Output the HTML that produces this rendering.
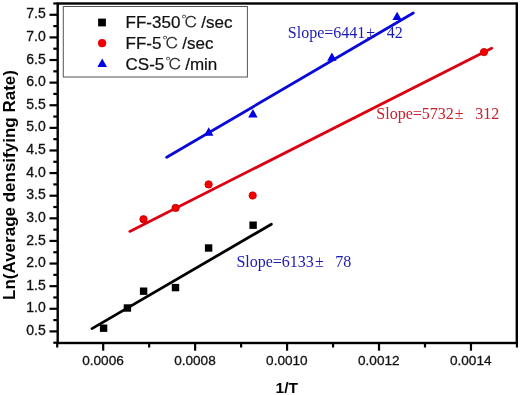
<!DOCTYPE html>
<html><head><meta charset="utf-8"><title>chart</title>
<style>
html,body{margin:0;padding:0;background:#fff;}
svg{display:block}
.tl{font-family:"Liberation Sans",sans-serif;font-size:14px;fill:#111;stroke:#111;stroke-width:.3px}
.tx{font-family:"Liberation Sans",sans-serif;font-size:13.6px;fill:#111;stroke:#111;stroke-width:.3px}
.lg{font-family:"Liberation Sans","IPAGothic",sans-serif;font-size:16px;fill:#111;stroke:#111;stroke-width:.22px}
.cj{font-family:"IPAGothic","Noto Sans CJK SC",sans-serif;fill:#333;stroke:none}
.ax{font-family:"Liberation Sans",sans-serif;font-weight:bold;fill:#000}
.sl{font-family:"Liberation Serif",serif;font-size:16px}
</style></head><body>
<svg width="520" height="395" viewBox="0 0 520 395">
<rect width="520" height="395" fill="#fff"/>

<rect x="57.7" y="3.5" width="459.09999999999997" height="339.5" fill="none" stroke="#000" stroke-width="2.4"/>
<line x1="53.3" y1="342.71" x2="57.7" y2="342.71" stroke="#000" stroke-width="2.2"/>
<line x1="49.5" y1="331.40" x2="57.7" y2="331.40" stroke="#000" stroke-width="2.2"/>
<text class="tl" x="45.8" y="335.00" text-anchor="end">0.5</text>
<line x1="53.3" y1="320.09" x2="57.7" y2="320.09" stroke="#000" stroke-width="2.2"/>
<line x1="49.5" y1="308.78" x2="57.7" y2="308.78" stroke="#000" stroke-width="2.2"/>
<text class="tl" x="45.8" y="312.38" text-anchor="end">1.0</text>
<line x1="53.3" y1="297.48" x2="57.7" y2="297.48" stroke="#000" stroke-width="2.2"/>
<line x1="49.5" y1="286.17" x2="57.7" y2="286.17" stroke="#000" stroke-width="2.2"/>
<text class="tl" x="45.8" y="289.77" text-anchor="end">1.5</text>
<line x1="53.3" y1="274.86" x2="57.7" y2="274.86" stroke="#000" stroke-width="2.2"/>
<line x1="49.5" y1="263.55" x2="57.7" y2="263.55" stroke="#000" stroke-width="2.2"/>
<text class="tl" x="45.8" y="267.15" text-anchor="end">2.0</text>
<line x1="53.3" y1="252.25" x2="57.7" y2="252.25" stroke="#000" stroke-width="2.2"/>
<line x1="49.5" y1="240.94" x2="57.7" y2="240.94" stroke="#000" stroke-width="2.2"/>
<text class="tl" x="45.8" y="244.54" text-anchor="end">2.5</text>
<line x1="53.3" y1="229.63" x2="57.7" y2="229.63" stroke="#000" stroke-width="2.2"/>
<line x1="49.5" y1="218.32" x2="57.7" y2="218.32" stroke="#000" stroke-width="2.2"/>
<text class="tl" x="45.8" y="221.92" text-anchor="end">3.0</text>
<line x1="53.3" y1="207.02" x2="57.7" y2="207.02" stroke="#000" stroke-width="2.2"/>
<line x1="49.5" y1="195.71" x2="57.7" y2="195.71" stroke="#000" stroke-width="2.2"/>
<text class="tl" x="45.8" y="199.31" text-anchor="end">3.5</text>
<line x1="53.3" y1="184.40" x2="57.7" y2="184.40" stroke="#000" stroke-width="2.2"/>
<line x1="49.5" y1="173.09" x2="57.7" y2="173.09" stroke="#000" stroke-width="2.2"/>
<text class="tl" x="45.8" y="176.69" text-anchor="end">4.0</text>
<line x1="53.3" y1="161.79" x2="57.7" y2="161.79" stroke="#000" stroke-width="2.2"/>
<line x1="49.5" y1="150.48" x2="57.7" y2="150.48" stroke="#000" stroke-width="2.2"/>
<text class="tl" x="45.8" y="154.08" text-anchor="end">4.5</text>
<line x1="53.3" y1="139.17" x2="57.7" y2="139.17" stroke="#000" stroke-width="2.2"/>
<line x1="49.5" y1="127.86" x2="57.7" y2="127.86" stroke="#000" stroke-width="2.2"/>
<text class="tl" x="45.8" y="131.46" text-anchor="end">5.0</text>
<line x1="53.3" y1="116.56" x2="57.7" y2="116.56" stroke="#000" stroke-width="2.2"/>
<line x1="49.5" y1="105.25" x2="57.7" y2="105.25" stroke="#000" stroke-width="2.2"/>
<text class="tl" x="45.8" y="108.85" text-anchor="end">5.5</text>
<line x1="53.3" y1="93.94" x2="57.7" y2="93.94" stroke="#000" stroke-width="2.2"/>
<line x1="49.5" y1="82.63" x2="57.7" y2="82.63" stroke="#000" stroke-width="2.2"/>
<text class="tl" x="45.8" y="86.23" text-anchor="end">6.0</text>
<line x1="53.3" y1="71.33" x2="57.7" y2="71.33" stroke="#000" stroke-width="2.2"/>
<line x1="49.5" y1="60.02" x2="57.7" y2="60.02" stroke="#000" stroke-width="2.2"/>
<text class="tl" x="45.8" y="63.62" text-anchor="end">6.5</text>
<line x1="53.3" y1="48.71" x2="57.7" y2="48.71" stroke="#000" stroke-width="2.2"/>
<line x1="49.5" y1="37.40" x2="57.7" y2="37.40" stroke="#000" stroke-width="2.2"/>
<text class="tl" x="45.8" y="41.00" text-anchor="end">7.0</text>
<line x1="53.3" y1="26.10" x2="57.7" y2="26.10" stroke="#000" stroke-width="2.2"/>
<line x1="49.5" y1="14.79" x2="57.7" y2="14.79" stroke="#000" stroke-width="2.2"/>
<text class="tl" x="45.8" y="18.39" text-anchor="end">7.5</text>
<line x1="53.3" y1="3.48" x2="57.7" y2="3.48" stroke="#000" stroke-width="2.2"/>
<line x1="57.23" y1="343.0" x2="57.23" y2="347.5" stroke="#000" stroke-width="2.2"/>
<line x1="103.20" y1="343.0" x2="103.20" y2="350.7" stroke="#000" stroke-width="2.2"/>
<text class="tx" x="103.00" y="364.8" text-anchor="middle">0.0006</text>
<line x1="149.17" y1="343.0" x2="149.17" y2="347.5" stroke="#000" stroke-width="2.2"/>
<line x1="195.14" y1="343.0" x2="195.14" y2="350.7" stroke="#000" stroke-width="2.2"/>
<text class="tx" x="194.94" y="364.8" text-anchor="middle">0.0008</text>
<line x1="241.11" y1="343.0" x2="241.11" y2="347.5" stroke="#000" stroke-width="2.2"/>
<line x1="287.08" y1="343.0" x2="287.08" y2="350.7" stroke="#000" stroke-width="2.2"/>
<text class="tx" x="286.88" y="364.8" text-anchor="middle">0.0010</text>
<line x1="333.05" y1="343.0" x2="333.05" y2="347.5" stroke="#000" stroke-width="2.2"/>
<line x1="379.02" y1="343.0" x2="379.02" y2="350.7" stroke="#000" stroke-width="2.2"/>
<text class="tx" x="378.82" y="364.8" text-anchor="middle">0.0012</text>
<line x1="424.99" y1="343.0" x2="424.99" y2="347.5" stroke="#000" stroke-width="2.2"/>
<line x1="470.96" y1="343.0" x2="470.96" y2="350.7" stroke="#000" stroke-width="2.2"/>
<text class="tx" x="470.76" y="364.8" text-anchor="middle">0.0014</text>
<line x1="516.93" y1="343.0" x2="516.93" y2="347.5" stroke="#000" stroke-width="2.2"/>
<text class="ax" font-size="15.5" x="286.8" y="392.6" text-anchor="middle">1/T</text>
<text class="ax" font-size="17" transform="translate(14.6,185) rotate(-90)" text-anchor="middle">Ln(Average densifying Rate)</text>
<line x1="92" y1="328.6" x2="271.4" y2="224.2" stroke="#000" stroke-width="2.8" stroke-linecap="round"/>
<line x1="129.8" y1="231.4" x2="491.7" y2="48.3" stroke="#dc0010" stroke-width="2.8" stroke-linecap="round"/>
<line x1="166.7" y1="157.3" x2="413.3" y2="13" stroke="#0a0ad8" stroke-width="2.8" stroke-linecap="round"/>
<rect x="99.9" y="324.5" width="7.4" height="7.4" fill="#000"/>
<rect x="123.7" y="304.3" width="7.4" height="7.4" fill="#000"/>
<rect x="139.9" y="287.5" width="7.4" height="7.4" fill="#000"/>
<rect x="171.8" y="283.9" width="7.4" height="7.4" fill="#000"/>
<rect x="204.9" y="244.3" width="7.4" height="7.4" fill="#000"/>
<rect x="249.4" y="221.5" width="7.4" height="7.4" fill="#000"/>
<circle cx="143.5" cy="219.3" r="3.7" fill="#f40000" stroke="#c00000" stroke-width="0.8"/>
<circle cx="175.6" cy="207.9" r="3.7" fill="#f40000" stroke="#c00000" stroke-width="0.8"/>
<circle cx="208.6" cy="184.4" r="3.7" fill="#f40000" stroke="#c00000" stroke-width="0.8"/>
<circle cx="252.7" cy="195.5" r="3.7" fill="#f40000" stroke="#c00000" stroke-width="0.8"/>
<circle cx="484.0" cy="52.1" r="3.7" fill="#f40000" stroke="#c00000" stroke-width="0.8"/>
<polygon points="208.7,127.3 213.4,135.7 204.0,135.7" fill="#0000e6"/>
<polygon points="252.9,109.0 257.6,117.4 248.2,117.4" fill="#0000e6"/>
<polygon points="331.9,52.4 336.6,60.8 327.2,60.8" fill="#0000e6"/>
<polygon points="397.1,11.7 401.8,20.1 392.4,20.1" fill="#0000e6"/>
<text class="sl" x="287.8" y="38.4" fill="#1a1ab4" xml:space="preserve">Slope=6441<tspan dx="1.1">±</tspan><tspan dx="7.5"> 42</tspan></text>
<text class="sl" x="376.3" y="118.7" fill="#c8202c" xml:space="preserve">Slope=5732<tspan dx="1.1">±</tspan><tspan dx="7.5"> 312</tspan></text>
<text class="sl" x="236.4" y="266.5" fill="#1a1ab4" xml:space="preserve">Slope=6133<tspan dx="1.1">±</tspan><tspan dx="7.5"> 78</tspan></text>
<rect x="63.3" y="6.5" width="184.1" height="70.5" fill="#fff" stroke="#555" stroke-width="1"/>
<rect x="98.1" y="18.6" width="7.8" height="7.8" fill="#000"/>
<circle cx="102.1" cy="43.2" r="4.1" fill="#f00000"/>
<polygon points="102.2,58.4 107.0,67.0 97.4,67.0" fill="#0000e6"/>
<text class="lg" transform="translate(125.6,27.6) scale(1.0625,1)" xml:space="preserve">FF-350<tspan class="cj" dx="0.8">℃</tspan><tspan dx="-1.6"> /sec</tspan></text>
<text class="lg" transform="translate(125.6,48.9) scale(1.0625,1)" xml:space="preserve">FF-5<tspan class="cj" dx="0.8">℃</tspan><tspan dx="-1.6"> /sec</tspan></text>
<text class="lg" transform="translate(125.6,69.6) scale(1.0625,1)" xml:space="preserve">CS-5<tspan class="cj" dx="0.8">℃</tspan><tspan dx="-1.6"> /min</tspan></text>
</svg></body></html>
